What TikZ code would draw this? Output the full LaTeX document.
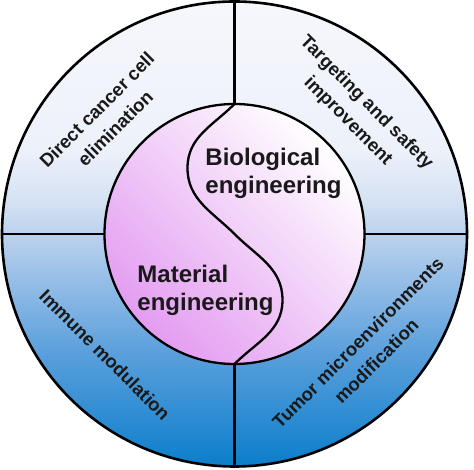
\documentclass[tikz,border=0pt]{standalone}
\usepackage{fontspec}
\setmainfont{Liberation Sans}
\definecolor{ringtop}{HTML}{F6F7FC}
\definecolor{ringlt}{HTML}{EDF1FA}
\definecolor{ringpl}{HTML}{D5E2F3}
\definecolor{ringmid}{HTML}{BCD2EE}
\definecolor{ringlow}{HTML}{5CA0DC}
\definecolor{ringbot}{HTML}{0B7ECB}
\definecolor{violetc}{HTML}{E39CF1}
\definecolor{violetm}{HTML}{F3D6F8}
\pgfdeclareverticalshading{ringshade}{100bp}{color(0bp)=(ringbot); color(25bp)=(ringbot); color(37.5bp)=(ringlow); color(50bp)=(ringmid); color(53.6bp)=(ringpl); color(59bp)=(ringlt); color(75bp)=(ringtop); color(100bp)=(ringtop)}
\tikzset{
  ringline/.style={line width=2.3pt, black},
  ringtext/.style={font=\fontsize{18.5}{26}\selectfont\bfseries, align=center, inner sep=0pt, text=black!90},
  coretext/.style={font=\fontsize{24}{28}\selectfont\bfseries, align=left, inner sep=0pt, text=black!90}
}
\begin{document}
\begin{tikzpicture}[x=1pt,y=1pt]
\useasboundingbox (-234.5,-236) rectangle (239.5,234);
% outer ring
\shade[shading=ringshade] (0,0) circle (232.5);
\draw[ringline, line width=2.6pt] (0,0) circle (232.5);
% dividers
\foreach \a in {0,90,180,270} \draw[ringline] (\a:130) -- (\a:232.5);
% inner disc
\shade[top color=white, middle color=violetm, bottom color=violetc, shading angle=-45] (0,0) circle (130);
\draw[ringline] (0,0) coordinate (c) circle (130);
% S curve
\draw[ringline] (0,130) to[out=225, in=90] (-47,66) to[out=-90, in=135] (0,0) to[out=-45, in=90] (48,-66) to[out=-90, in=45] (0,-130);
% core texts
\node[coretext] (bio) at (39,60.5) {Biological\\engineering};
\node[coretext] (mat) at (-29,-56) {Material\\engineering};
% ring texts
\node[ringtext, rotate=45] (t1) at (-128.5,115) {Direct cancer cell\\elimination};
\node[ringtext, rotate=-45] (t2) at (122.5,122) {Targeting and safety\\improvement};
\node[ringtext, rotate=-45] (t3) at (-129.5,-121) {Immune modulation};
\node[ringtext, rotate=45] (t4) at (132.5,-118) {Tumor microenvironments\\modification};
\end{tikzpicture}
\end{document}
